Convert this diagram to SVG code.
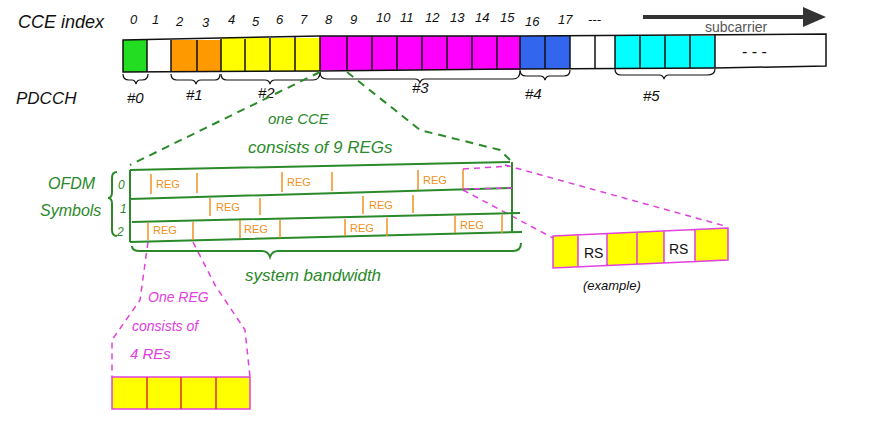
<svg xmlns="http://www.w3.org/2000/svg" width="895" height="423" viewBox="0 0 895 423">
<style>
.k{font-family:"Liberation Sans",sans-serif;font-style:italic;fill:#111}
.g{font-family:"Liberation Sans",sans-serif;font-style:italic;fill:#2a8a2a}
.p{font-family:"Liberation Sans",sans-serif;font-style:italic;fill:#e040e0}
.o{font-family:"Liberation Sans",sans-serif;font-size:11px;fill:#f09020}
.c{stroke:#111;stroke-width:1.5}
.gl{stroke:#2a8a2a;stroke-width:2;fill:none}
.gd{stroke:#2a8a2a;stroke-width:2;fill:none;stroke-dasharray:8 6}
.pd{stroke:#e040e0;stroke-width:1.5;fill:none;stroke-dasharray:6 5}
.ob{stroke:#f09020;stroke-width:1.5}
.br{stroke:#111;stroke-width:1.2;fill:none}
</style>
<rect width="895" height="423" fill="#fff"/>
<g id="labels">
<text class="k" x="18" y="28" font-size="18">CCE index</text>
<text class="k" x="16" y="104" font-size="17">PDCCH</text>
<g font-size="13" class="k">
<text x="130" y="24">0</text><text x="152" y="24">1</text><text x="176" y="26">2</text><text x="202" y="27">3</text>
<text x="228" y="24">4</text><text x="252" y="26">5</text><text x="276" y="24">6</text><text x="300" y="24">7</text>
<text x="325" y="24">8</text><text x="350" y="24">9</text><text x="376" y="22">10</text><text x="400" y="22">11</text>
<text x="425" y="22">12</text><text x="450" y="22">13</text><text x="475" y="22">14</text><text x="500" y="22">15</text>
<text x="525" y="26">16</text><text x="558" y="24">17</text><text x="588" y="24">---</text>
</g>
<g font-size="15" class="k">
<text x="127" y="103">#0</text><text x="186" y="100">#1</text><text x="258" y="98">#2</text>
<text x="412" y="93">#3</text><text x="525" y="99">#4</text><text x="643" y="101">#5</text>
</g>
</g>
<g id="subcarrier">
<line x1="643" y1="17" x2="805" y2="17" stroke="#333" stroke-width="4"/>
<polygon points="803,7 826,17 803,27" fill="#333"/>
<text x="705" y="32" font-family="Liberation Sans,sans-serif" font-size="14" fill="#555">subcarrier</text>
</g>
<g id="cce-bar">
<rect x="123" y="40" width="24" height="32" fill="#22dd22"/>
<rect x="171" y="40" width="50" height="32" fill="#ff9900"/>
<rect x="221" y="38" width="99" height="33" fill="#ffff00"/>
<rect x="320" y="36" width="200" height="34" fill="#ff00ff"/>
<rect x="520" y="36" width="50" height="33" fill="#3366ee"/>
<rect x="615" y="36" width="100" height="32" fill="#00ffff"/>
<path class="c" fill="none" d="M123,40 L320,36 L520,36 L826,34 L826,66 L715,68 L520,69 L320,71 L123,72 Z"/>
<g class="c">
<line x1="147" y1="40" x2="147" y2="72"/><line x1="171" y1="40" x2="171" y2="72"/><line x1="197" y1="40" x2="197" y2="72"/>
<line x1="221" y1="39" x2="221" y2="72"/><line x1="245" y1="39" x2="245" y2="71"/><line x1="270" y1="38" x2="270" y2="71"/>
<line x1="295" y1="37" x2="295" y2="71"/><line x1="320" y1="36" x2="320" y2="71"/><line x1="347" y1="36" x2="347" y2="71"/>
<line x1="372" y1="36" x2="372" y2="70"/><line x1="397" y1="36" x2="397" y2="70"/><line x1="422" y1="36" x2="422" y2="70"/>
<line x1="447" y1="36" x2="447" y2="70"/><line x1="472" y1="36" x2="472" y2="70"/><line x1="497" y1="36" x2="497" y2="70"/>
<line x1="520" y1="36" x2="520" y2="69"/><line x1="545" y1="36" x2="545" y2="69"/><line x1="570" y1="36" x2="570" y2="69"/>
<line x1="595" y1="36" x2="595" y2="69"/><line x1="615" y1="36" x2="615" y2="68"/><line x1="640" y1="36" x2="640" y2="68"/>
<line x1="665" y1="35" x2="665" y2="68"/><line x1="690" y1="35" x2="690" y2="68"/><line x1="715" y1="35" x2="715" y2="68"/>
</g>
<text x="742" y="57" font-family="Liberation Sans,sans-serif" font-size="16" fill="#111">- - -</text>
</g>
<g id="braces">
<path class="br" d="M123,74 q0,6 6,6 h3 q3,0 4,4 q1,-4 4,-4 h2 q6,0 6,-6"/>
<path class="br" d="M171,74 q0,6 6,6 h14 q4,0 5,4 q1,-4 5,-4 h14 q5,0 5,-6"/>
<path class="br" d="M221,74 q0,6 6,6 h38 q4,0 5,4 q1,-4 5,-4 h38 q7,0 7,-8"/>
<path class="br" d="M320,72 q0,7 7,7 h88 q4,0 5,4 q1,-4 5,-4 h88 q7,0 7,-8"/>
<path class="br" d="M520,70 q0,6 6,6 h14 q4,0 5,4 q1,-4 5,-4 h14 q6,0 6,-6"/>
<path class="br" d="M615,69 q0,6 6,6 h38 q4,0 5,4 q1,-4 5,-4 h38 q8,0 8,-6"/>
</g>
<g id="connectors">
<path class="gd" d="M320,72 L130,165"/>
<path class="gd" d="M347,72 L420,130 L500,150 L510,160"/>
<path class="pd" d="M505,165 L725,226"/>
<path class="pd" d="M463,190 L553,238"/>
<path class="pd" d="M148,242 L140,300 L112,340 L112,377"/>
<path class="pd" d="M193,242 L215,285 L245,330 L250,377"/>
</g>
<g id="cce-text">
<text class="g" x="268" y="124" font-size="15">one CCE</text>
<text class="g" x="248" y="153" font-size="17">consists of 9 REGs</text>
<text class="g" x="48" y="189" font-size="16">OFDM</text>
<text class="g" x="40" y="216" font-size="16">Symbols</text>
<text class="g" x="118" y="189" font-size="12">0</text>
<text class="g" x="120" y="213" font-size="12">1</text>
<text class="g" x="117" y="236" font-size="12">2</text>
<path class="gl" stroke-width="1.5" d="M117,172 q-5,0 -5,6 v14 q0,6 -4,6 q4,0 4,6 v26 q0,6 5,6"/>
<text class="g" x="245" y="281" font-size="17">system bandwidth</text>
</g>
<g id="ofdm-grid">
<path class="gl" d="M130,170 L510,162 M130,199 L512,188 M132,222 L520,213 M130,242 L522,232 M130,170 L130,242 M512,162 L512,232"/>
<path class="gl" stroke-width="1.5" d="M132,246 q0,5 8,5 h122 q6,0 8,6 q2,-6 8,-6 h235 q8,0 8,-8"/>
<g class="ob">
<line x1="151" y1="174" x2="151" y2="194"/><line x1="197" y1="173" x2="197" y2="193"/>
<line x1="282" y1="172" x2="282" y2="192"/><line x1="332" y1="172" x2="332" y2="191"/>
<line x1="418" y1="170" x2="418" y2="190"/><line x1="463" y1="169" x2="463" y2="189"/>
<line x1="210" y1="198" x2="210" y2="216"/><line x1="260" y1="198" x2="260" y2="215"/>
<line x1="363" y1="196" x2="363" y2="214"/><line x1="413" y1="195" x2="413" y2="213"/>
<line x1="148" y1="222" x2="148" y2="240"/><line x1="193" y1="222" x2="193" y2="240"/>
<line x1="240" y1="220" x2="240" y2="238"/><line x1="280" y1="220" x2="280" y2="238"/>
<line x1="345" y1="219" x2="345" y2="236"/><line x1="387" y1="218" x2="387" y2="236"/>
<line x1="455" y1="216" x2="455" y2="233"/><line x1="502" y1="215" x2="502" y2="233"/>
</g>
<g class="o">
<text x="156" y="188">REG</text><text x="287" y="186">REG</text><text x="423" y="184">REG</text>
<text x="216" y="211">REG</text><text x="369" y="209">REG</text>
<text x="153" y="234">REG</text><text x="244" y="233">REG</text><text x="350" y="232">REG</text><text x="460" y="229">REG</text>
</g>
<path class="pd" d="M463,169 L510,166 M463,189 L512,188"/>
</g>
<g id="example">
<path d="M553,236 L728,228 L728,260 L553,268 Z" fill="#ffff00"/>
<path d="M578,235 L607,234 L607,266 L578,267 Z M664,231 L695,230 L695,261 L664,263 Z" fill="#fff"/>
<path d="M553,236 L728,228 L728,260 L553,268 Z M578,235 V267 M607,234 V266 M637,232 V264 M664,231 V263 M695,230 V261" fill="none" stroke="#e040e0" stroke-width="1.5"/>
<text x="584" y="258" font-family="Liberation Sans,sans-serif" font-size="14" fill="#111">RS</text>
<text x="669" y="254" font-family="Liberation Sans,sans-serif" font-size="14" fill="#111">RS</text>
<text class="k" x="583" y="290" font-size="13">(example)</text>
</g>
<g id="reg-text">
<text class="p" x="148" y="302" font-size="14">One REG</text>
<text class="p" x="132" y="331" font-size="14">consists of</text>
<text class="p" x="130" y="359" font-size="15">4 REs</text>
</g>
<g id="reg-box">
<rect x="112" y="377" width="138" height="32" fill="#ffff00" stroke="#e040e0" stroke-width="1.5"/>
<path d="M147,377 V409 M181,377 V409 M216,377 V409" stroke="#e03030" stroke-width="1.5"/>
</g>
</svg>
